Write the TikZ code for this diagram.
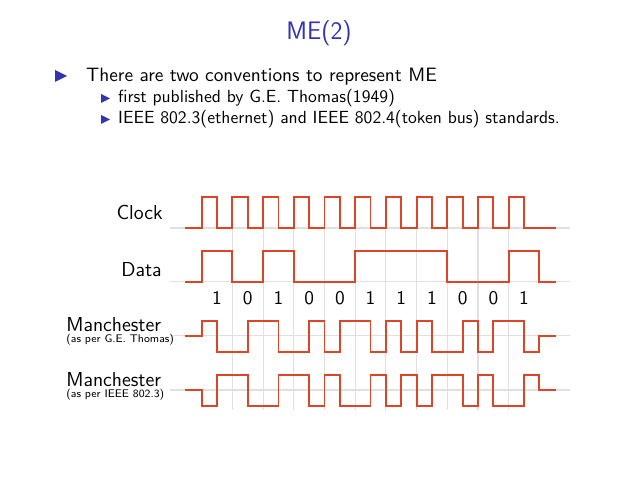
\documentclass[tikz,border=0pt]{standalone}
\usepackage{fontspec}
\setsansfont{Latin Modern Sans}
\renewcommand{\familydefault}{\sfdefault}
\begin{document}
\begin{tikzpicture}[x=0.569pt,y=-0.569pt,
  wave/.style={draw={rgb,255:red,220;green,70;blue,40},line width=1.05pt,line join=miter},
  gridl/.style={draw=black!12,line width=0.6pt},
  bul/.style={fill={rgb,255:red,51;green,51;blue,179}},
  lab/.style={anchor=base east,font=\fontsize{11.5}{12}\selectfont,inner sep=0}]
\useasboundingbox (0,0) rectangle (638,479);
\def\P{30.7}\def\H{15.35}\def\X{201.7}
% title
\node[font=\fontsize{14.4}{16}\selectfont,text={rgb,255:red,51;green,51;blue,179}] (title) at (319,33) {ME(2)};
% bullets
\fill[bul] (55,70) -- (67,76) -- (55,82) -- cycle;
\node[anchor=base west,font=\fontsize{11}{13}\selectfont] (b1) at (80,82) {There are two conventions to represent ME};
\fill[bul] (101,94) -- (110,98.5) -- (101,103) -- cycle;
\fill[bul] (101,115) -- (110,119.5) -- (101,124) -- cycle;
\node[anchor=base west,font=\fontsize{10}{12}\selectfont] (b2) at (112,103) {first published by G.E. Thomas(1949)};
\node[anchor=base west,font=\fontsize{10}{12}\selectfont] (b3) at (112,124) {IEEE 802.3(ethernet) and IEEE 802.4(token bus) standards.};
% grid
\foreach \y in {228,281.7,335.7,390} \draw[gridl] (170,\y) -- (570,\y);
\foreach \i in {1,...,10} \draw[gridl] ({\X+\i*\P},228) -- ({\X+\i*\P},410);
% labels
\node[lab] (clk) at (163,220) {Clock};
\node[lab] (dat) at (162,277) {Data};
\node[anchor=base west,font=\fontsize{11.5}{12}\selectfont,inner sep=0] (m1) at (66,332) {Manchester};
\node[anchor=base west,font=\fontsize{6.3}{7}\selectfont,inner sep=0] (m1s) at (66,343) {(as per G.E. Thomas)};
\node[anchor=base west,font=\fontsize{11.5}{12}\selectfont,inner sep=0] (m2) at (66,387) {Manchester};
\node[anchor=base west,font=\fontsize{6.3}{7}\selectfont,inner sep=0] (m2s) at (66,398) {(as per IEEE 802.3)};
% digits
\foreach \b [count=\i from 0] in {1,0,1,0,0,1,1,1,0,0,1}
  \node[font=\fontsize{11}{12}\selectfont] (d\i) at ({\X+\i*\P+\H},298) {\b};
% clock
\draw[wave] (185,228) -- (\X,228) \foreach \i in {0,...,10} { -- ++(0,-31) -- ++(\H,0) -- ++(0,31) -- ++(\H,0)} -- (556,228);
% data
\draw[wave] (185,281.7) -- (\X,281.7) \foreach \b [count=\i] in {1,0,1,0,0,1,1,1,0,0,1} { |- ({\X+\i*\P},{281.7-31*\b}) } |- (556,281.7);
% Manchester Thomas
\draw[wave] (185,335.7) -- (\X,335.7) \foreach \b [count=\i from 0] in {1,0,1,0,0,1,1,1,0,0,1} { |- ({\X+\i*\P+\H},{352-31*\b}) |- ({\X+(\i+1)*\P},{321+31*\b}) } |- (556,335.7);
% Manchester IEEE
\draw[wave] (185,390) -- (\X,390) \foreach \b [count=\i from 0] in {1,0,1,0,0,1,1,1,0,0,1} { |- ({\X+\i*\P+\H},{375+30.7*\b}) |- ({\X+(\i+1)*\P},{405.7-30.7*\b}) } |- (556,390);
\end{tikzpicture}
\end{document}
